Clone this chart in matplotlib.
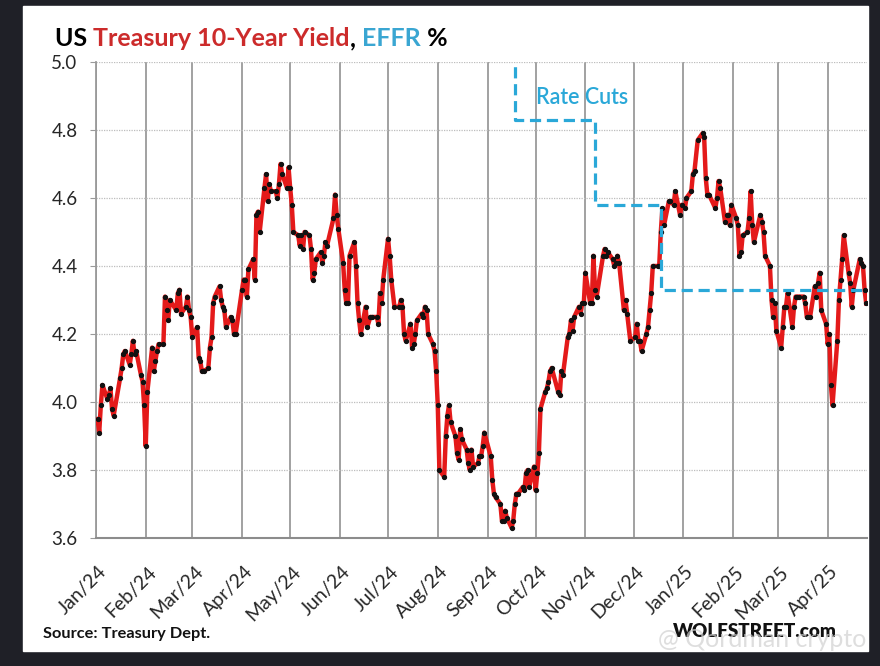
import matplotlib
matplotlib.use("Agg")
import matplotlib.pyplot as plt
import matplotlib.dates as mdates
from matplotlib.patches import Rectangle
from matplotlib.transforms import ScaledTranslation
import pandas as pd

plt.rcParams['font.family'] = ['Lato', 'DejaVu Sans']

# 10-year yield, daily, by month
jan24 = [3.95, 3.91, 3.99, 4.05, 4.01, 4.02, 4.04, 3.98, 3.96, 4.07, 4.10, 4.14, 4.15, 4.11, 4.14, 4.18, 4.14, 4.15, 4.08, 4.06, 3.99]
feb24 = [3.87, 4.03, 4.16, 4.09, 4.12, 4.15, 4.17, 4.17, 4.31, 4.27, 4.24, 4.30, 4.27, 4.32, 4.33, 4.26, 4.28, 4.31, 4.27, 4.25]
mar24 = [4.19, 4.22, 4.13, 4.12, 4.09, 4.09, 4.10, 4.16, 4.19, 4.29, 4.31, 4.34, 4.30, 4.28, 4.27, 4.22, 4.25, 4.24, 4.20, 4.20]
apr24 = [4.33, 4.36, 4.36, 4.31, 4.39, 4.42, 4.36, 4.55, 4.56, 4.50, 4.63, 4.67, 4.59, 4.64, 4.62, 4.62, 4.60, 4.64, 4.70, 4.67, 4.63, 4.69]
may24 = [4.63, 4.58, 4.50, 4.49, 4.46, 4.49, 4.45, 4.50, 4.49, 4.45, 4.36, 4.38, 4.42, 4.44, 4.41, 4.43, 4.47, 4.46, 4.54, 4.61, 4.55, 4.51]
jun24 = [4.41, 4.33, 4.29, 4.29, 4.43, 4.47, 4.40, 4.29, 4.24, 4.20, 4.28, 4.22, 4.25, 4.25, 4.25, 4.23, 4.32, 4.29, 4.36]
jul24 = [4.48, 4.43, 4.36, 4.28, 4.28, 4.30, 4.28, 4.20, 4.18, 4.23, 4.16, 4.17, 4.20, 4.24, 4.26, 4.25, 4.28, 4.27, 4.20, 4.17, 4.15, 4.09]
aug24 = [3.99, 3.80, 3.78, 3.90, 3.96, 3.99, 3.94, 3.90, 3.85, 3.83, 3.92, 3.89, 3.86, 3.82, 3.80, 3.86, 3.81, 3.82, 3.84, 3.84, 3.87, 3.91]
sep24 = [3.84, 3.77, 3.73, 3.72, 3.70, 3.65, 3.65, 3.68, 3.66, 3.63, 3.65, 3.70, 3.73, 3.73, 3.75, 3.74, 3.79, 3.80, 3.75, 3.81]
oct24 = [3.74, 3.79, 3.85, 3.98, 4.03, 4.04, 4.06, 4.09, 4.10, 4.03, 4.02, 4.09, 4.08, 4.19, 4.20, 4.24, 4.21, 4.25, 4.28, 4.26, 4.29, 4.29]
nov24 = [4.38, 4.29, 4.29, 4.43, 4.33, 4.31, 4.43, 4.45, 4.43, 4.44, 4.42, 4.40, 4.41, 4.43, 4.41, 4.27, 4.30, 4.26, 4.18]
dec24 = [4.19, 4.23, 4.18, 4.18, 4.15, 4.20, 4.22, 4.27, 4.32, 4.40, 4.40, 4.40, 4.50, 4.57, 4.52, 4.59, 4.59, 4.58, 4.62, 4.55, 4.58]
jan25 = [4.57, 4.60, 4.62, 4.67, 4.68, 4.77, 4.79, 4.78, 4.66, 4.61, 4.61, 4.57, 4.60, 4.65, 4.63, 4.53, 4.55, 4.55, 4.52, 4.58]
feb25 = [4.54, 4.52, 4.43, 4.44, 4.49, 4.50, 4.54, 4.62, 4.52, 4.47, 4.55, 4.53, 4.50, 4.43, 4.40, 4.30, 4.25, 4.29, 4.21]
mar25 = [4.16, 4.22, 4.28, 4.28, 4.32, 4.22, 4.28, 4.31, 4.31, 4.31, 4.31, 4.29, 4.25, 4.25, 4.25, 4.34, 4.31, 4.35, 4.38, 4.27, 4.23]
apr25 = [4.17, 4.20, 4.05, 3.99, 4.18, 4.30, 4.36, 4.42, 4.49, 4.38, 4.35, 4.28, 4.33, 4.42, 4.41, 4.40, 4.33, 4.29]

bond_holidays = ['2024-01-01', '2024-01-15', '2024-02-19', '2024-03-29', '2024-05-27',
                 '2024-06-19', '2024-07-04', '2024-09-02', '2024-10-14', '2024-11-11',
                 '2024-11-28', '2024-12-25', '2025-01-01', '2025-01-09', '2025-01-20',
                 '2025-02-17', '2025-04-18']

# EFFR steps (FOMC decision dates)
effr_dates = ['2024-01-01', '2024-09-18', '2024-11-07', '2024-12-18', '2025-04-26']
effr_levels = [5.33, 4.83, 4.58, 4.33, 4.33]

yields = (jan24 + feb24 + mar24 + apr24 + may24 + jun24 + jul24 + aug24 + sep24
          + oct24 + nov24 + dec24 + jan25 + feb25 + mar25 + apr25)
dates = pd.bdate_range('2024-01-01', '2025-04-25', freq='C', holidays=bond_holidays)

fig = plt.figure(figsize=(8.8, 6.66), dpi=100, facecolor='#1f2027')
fig.patches.append(Rectangle((23/880, 1-651/666), 845/880, 645/666,
                             transform=fig.transFigure, color='white', zorder=-10))
ax = fig.add_axes([96/880, 1-538/666, 771/880, 476/666])
ax.patch.set_alpha(0)

ax.plot(dates, yields, color='#e41a1a', lw=3.2, zorder=3,
        marker='o', ms=2.8, mfc='#111111', mec='#111111')
ax.plot(pd.to_datetime(effr_dates), effr_levels, color='#2aa8d8', lw=2.3,
        ls=(0, (3.5, 1.8)), drawstyle='steps-post', zorder=4)

ax.set_ylim(3.6, 5.0)
ax.set_yticks([3.6, 3.8, 4.0, 4.2, 4.4, 4.6, 4.8, 5.0])
ax.set_yticklabels(['3.6', '3.8', '4.0', '4.2', '4.4', '4.6', '4.8', '5.0'])
ax.set_xlim(pd.Timestamp('2024-01-01'), pd.Timestamp('2025-04-25 12:00'))
ax.xaxis.set_major_locator(mdates.MonthLocator())
ax.xaxis.set_major_formatter(mdates.DateFormatter('%b/%y'))

ax.grid(axis='x', color='#9a9a9a', lw=1.3, zorder=1)
ax.grid(axis='y', color='#bdbdbd', lw=0.9, ls=(0, (1, 1)), zorder=1)
for s in ['top', 'right']:
    ax.spines[s].set_visible(False)
ax.spines['left'].set_color('#9a9a9a')
ax.spines['left'].set_linewidth(1.3)
ax.spines['bottom'].set_color('#8c8c8c')
ax.spines['bottom'].set_linewidth(1.5)
ax.tick_params(axis='y', length=4.3, color='#9a9a9a', labelsize=13.5, labelcolor='#262626', pad=9)
ax.tick_params(axis='x', length=0, labelsize=14, labelcolor='#262626', pad=18)
shift = ScaledTranslation(2/100, 0, fig.dpi_scale_trans)
for lab in ax.get_xticklabels():
    lab.set_rotation(45)
    lab.set_ha('right')
    lab.set_va('top')
    lab.set_rotation_mode('anchor')
    lab.set_transform(lab.get_transform() + shift)

ax.text(pd.Timestamp('2024-10-01'), 4.895, 'Rate Cuts', color='#2aa8d8',
        fontsize=15.5, fontweight='semibold', va='center', ha='left', zorder=5)

# multi-coloured title
t1 = fig.text(55/880, 1-46/666, 'US ', fontsize=18, fontweight='bold', color='black', va='baseline')
t2 = ax.annotate('Treasury 10-Year Yield', xy=(1, 0), xycoords=t1, va='bottom',
                 fontsize=18, fontweight='bold', color='#cc2b2b', annotation_clip=False)
t3 = ax.annotate(', ', xy=(1, 0), xycoords=t2, va='bottom',
                 fontsize=18, fontweight='bold', color='black', annotation_clip=False)
t4 = ax.annotate('EFFR', xy=(1, 0), xycoords=t3, va='bottom',
                 fontsize=18, fontweight='bold', color='#3aa6d2', annotation_clip=False)
ax.annotate(' %', xy=(1, 0), xycoords=t4, va='bottom',
            fontsize=18, fontweight='bold', color='black', annotation_clip=False)

fig.text(43/880, 1-638/666, 'Source: Treasury Dept.', fontsize=11.8, fontweight='bold',
         color='#111111', va='baseline')
fig.text(837/880, 1-637/666, 'WOLFSTREET.com', fontsize=13.5, fontweight='heavy',
         color='#111111', va='baseline', ha='right')
fig.text(658/880, 1-647/666, '@ Qordman crypto', fontsize=18, fontweight='normal',
         color='#d0d0d0', alpha=0.7, va='baseline', zorder=10)

fig.savefig('out.png', dpi=100, facecolor=fig.get_facecolor())
